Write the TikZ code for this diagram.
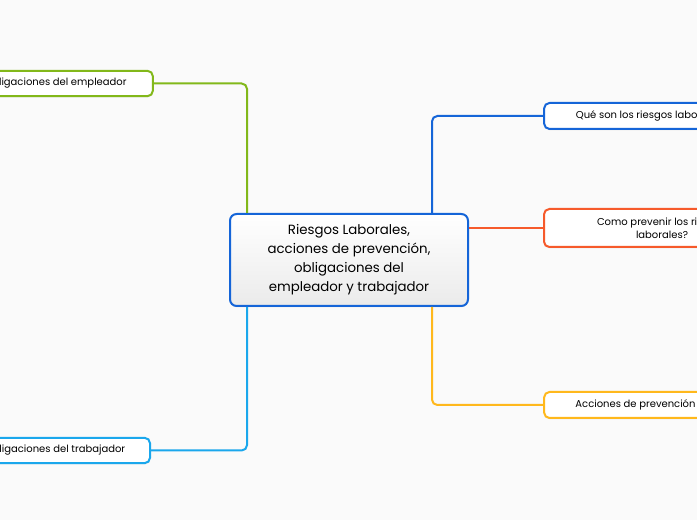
\documentclass[tikz,border=0pt]{standalone}
\usepackage{fontspec}
\setmainfont{Poppins}
\usetikzlibrary{shadows}
\definecolor{bg}{HTML}{FAFAFA}
\definecolor{cgreen}{HTML}{82B81A}
\definecolor{cblue}{HTML}{1565D8}
\definecolor{corange}{HTML}{F65A2B}
\definecolor{cyellow}{HTML}{FFB81C}
\definecolor{clight}{HTML}{1AA7EC}
\begin{document}
\begin{tikzpicture}[x=0.75pt,y=-0.75pt,
    topic/.style={draw,line width=1.5pt,rounded corners=4pt,fill=white,
      drop shadow={shadow xshift=0pt,shadow yshift=-1pt,opacity=0.12},
      inner sep=0pt,font=\fontsize{7.5}{9.5}\selectfont,align=center},
    link/.style={line width=1.5pt,rounded corners=4pt}]
    \clip (0,0) rectangle (697,520);
    \fill[bg] (0,0) rectangle (697,520);
    \node[draw=cblue,line width=1.5pt,rounded corners=5pt,top color=white,bottom color=black!8,
      drop shadow={shadow xshift=0pt,shadow yshift=-1pt,opacity=0.12},
      minimum width=178.5pt,minimum height=69pt,inner sep=0pt,align=center,
      font=\fontsize{10}{14.25}\selectfont] (c) at (349,260)
      {Riesgos Laborales,\\acciones de prevención,\\obligaciones del\\empleador y trabajador};
    \node[topic,draw=cgreen,minimum width=146pt,minimum height=19pt] (e1) at (55.5,83.5) {Obligaciones del empleador};
    \node[topic,draw=clight,minimum width=142.5pt,minimum height=19pt] (e2) at (55,450.5) {Obligaciones del trabajador};
    \node[topic,draw=cblue,minimum width=161pt,minimum height=19.5pt] (r1) at (651.5,116) {Qué son los riesgos laborales?};
    \node[topic,draw=corange,minimum width=177pt,minimum height=28.5pt] (r2) at (662,228) {Como prevenir los riesgos\\laborales?};
    \node[topic,draw=cyellow,minimum width=137pt,minimum height=19.5pt] (r3) at (635.5,405) {Acciones de prevención};
    \draw[link,cgreen] (e1.east) -| ([xshift=13.5pt]c.north west);
    \draw[link,clight] (e2.east) -| ([xshift=13.5pt]c.south west);
    \draw[link,cblue] ([xshift=-27.75pt]c.north east) |- (r1.west);
    \draw[link,corange] (c.east |- r2.west) -- (r2.west);
    \draw[link,cyellow] ([xshift=-27.75pt]c.south east) |- (r3.west);
\end{tikzpicture}
\end{document}
